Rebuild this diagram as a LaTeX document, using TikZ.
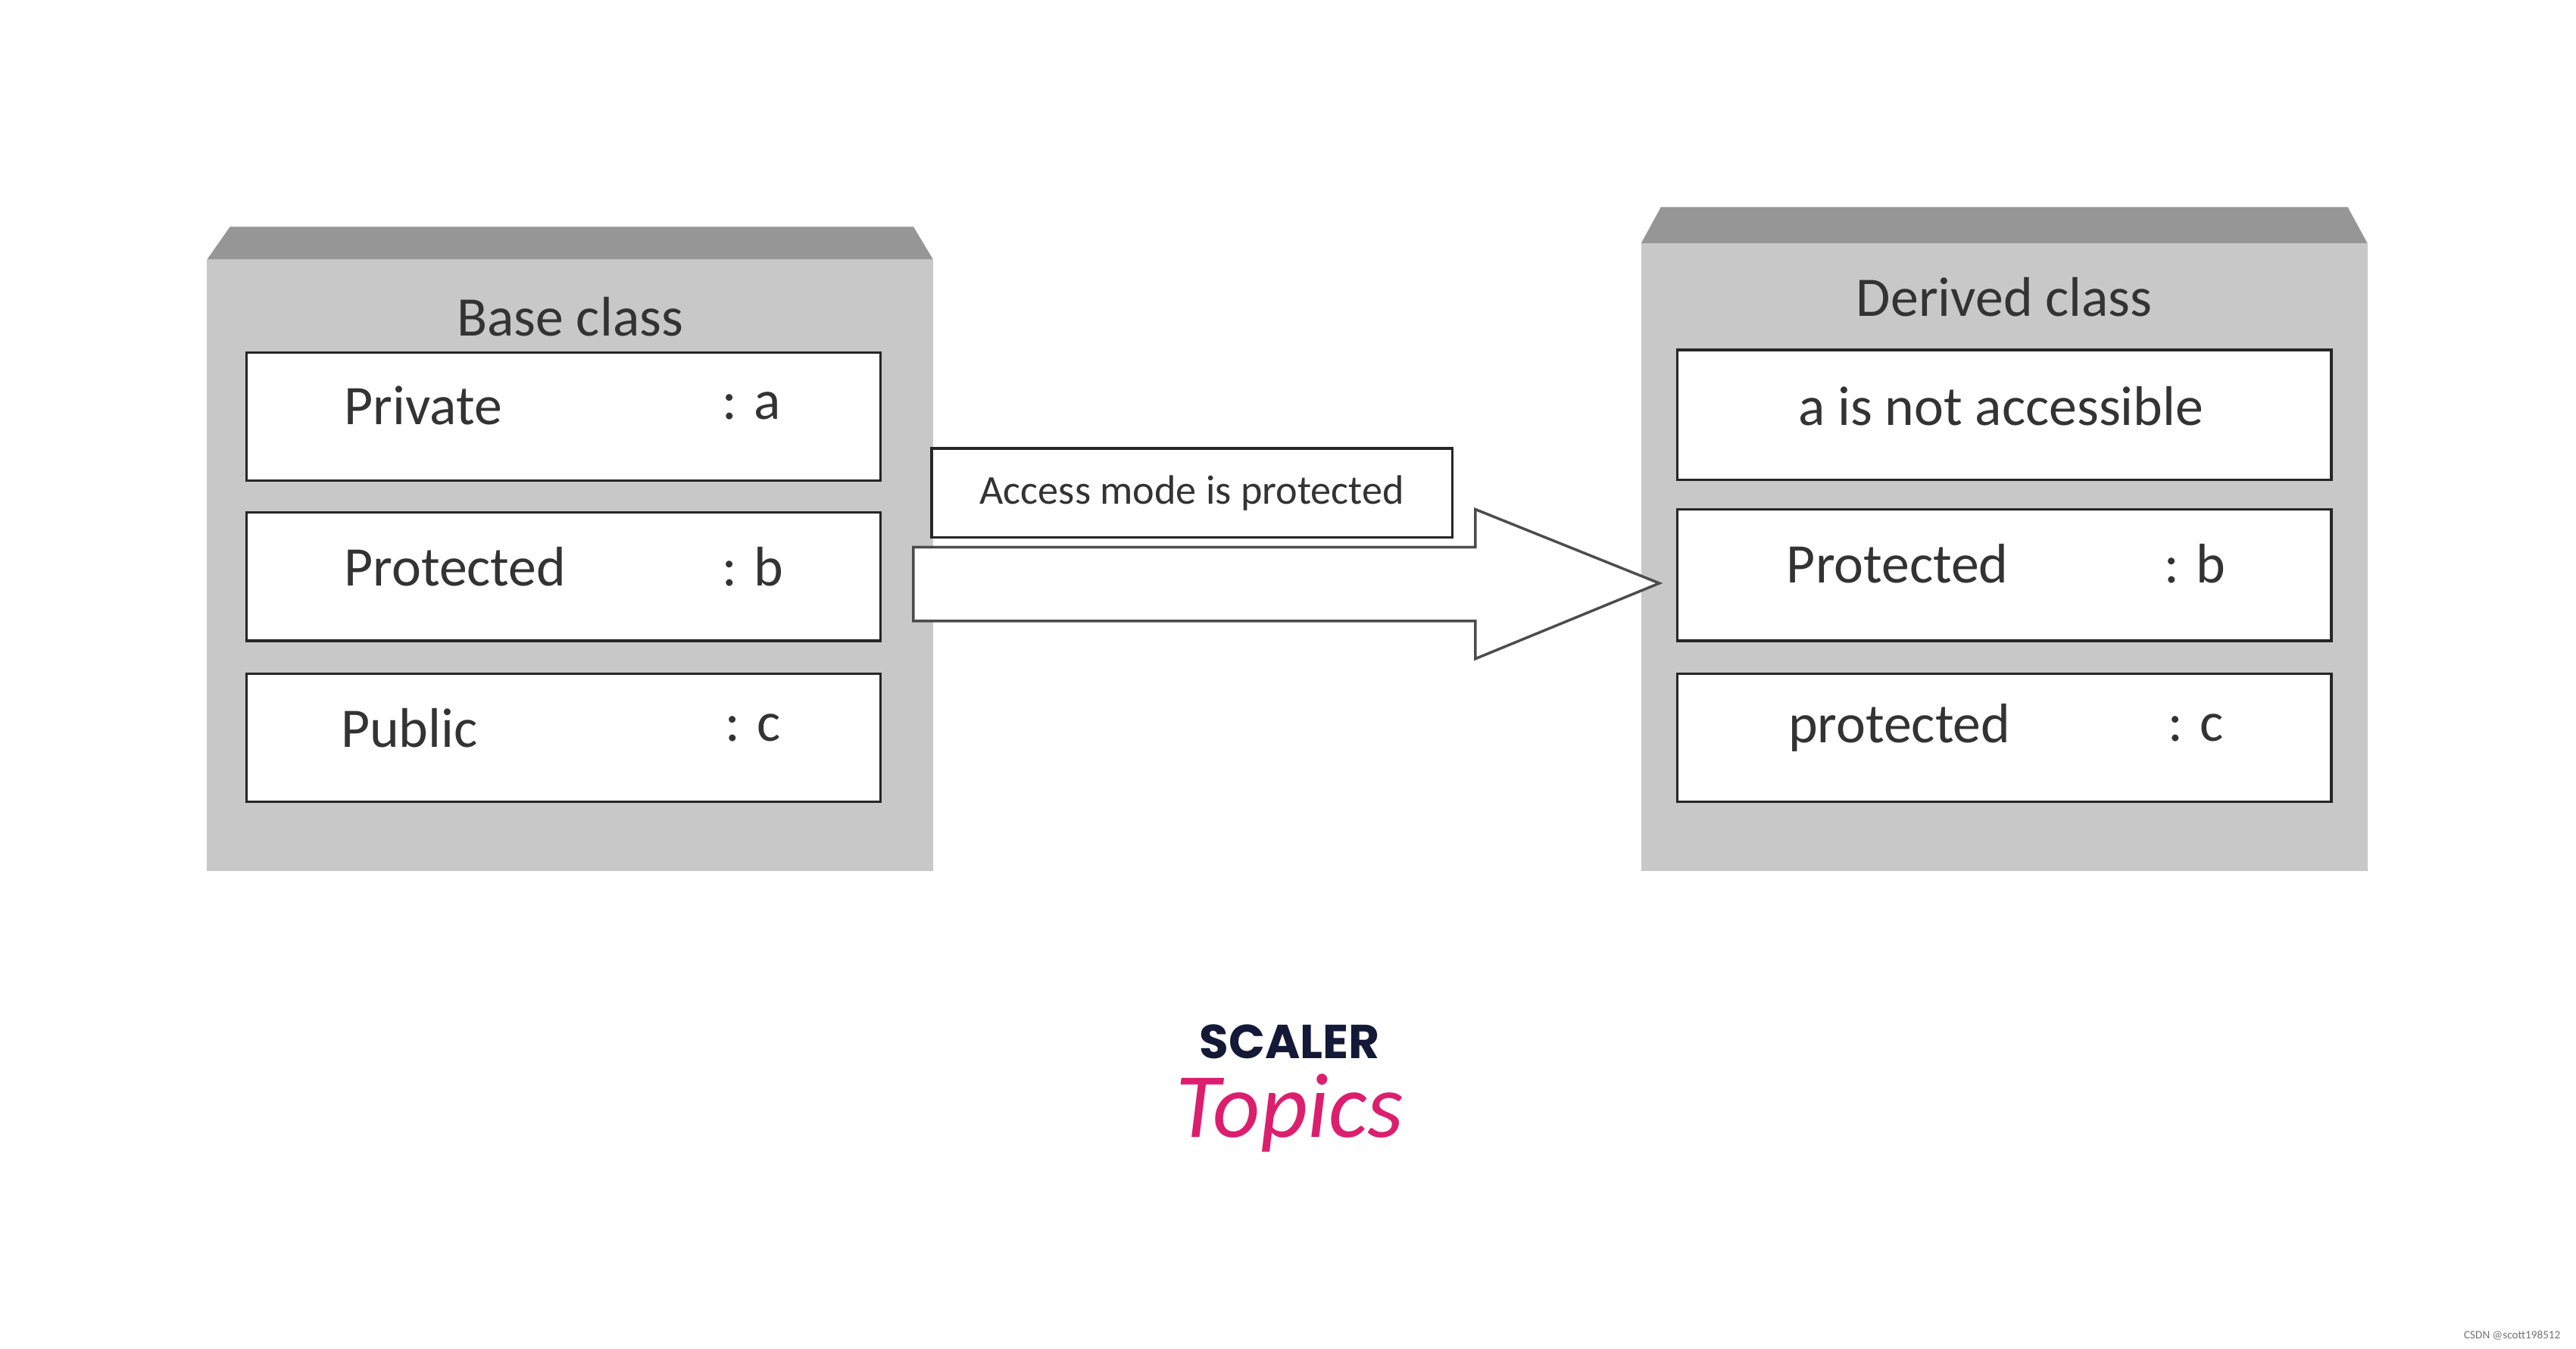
\documentclass[tikz,border=0pt]{standalone}
\usepackage{fontspec}
\setmainfont{Carlito}
\newfontfamily\logofont{Poppins}
\usetikzlibrary{positioning}
\definecolor{boxgray}{RGB}{200,200,200}
\definecolor{topgray}{RGB}{150,150,150}
\definecolor{navy}{RGB}{20,25,55}
\definecolor{pinkish}{RGB}{220,30,110}
\tikzset{
  member/.style={draw=black!85, line width=1.6pt, fill=white, minimum width=386pt, minimum height=78pt, inner sep=0pt},
  membertext/.style={font=\fontsize{34}{38}\selectfont, text=black!80},
  title/.style={font=\fontsize{34}{38}\selectfont, text=black!80}
}
\begin{document}
\begin{tikzpicture}[x=1pt,y=-1pt]
\useasboundingbox (0,0) rectangle (1568,821);

% Base class block
\fill[boxgray] (126,158) rectangle (568,530);
\fill[topgray] (126,158) -- (140,138) -- (556,138) -- (568,158) -- cycle;
\node[title] (basetitle) at (347,193) {Base class};
\node[member] (bpriv) at (343,253.5) {};
\node[member] (bprot) at (343,351) {};
\node[member] (bpub) at (343,449) {};
\node[membertext, anchor=west] at (206,247) {Private};
\node[membertext, anchor=west] at (436,247) {: a};
\node[membertext, anchor=west] at (206,345) {Protected};
\node[membertext, anchor=west] at (436,345) {: b};
\node[membertext, anchor=west] at (204,443) {Public};
\node[membertext, anchor=west] at (438,443) {: c};

% Derived class block
\fill[boxgray] (999,148) rectangle (1441,530);
\fill[topgray] (999,148) -- (1011,126) -- (1429,126) -- (1441,148) -- cycle;
\node[title] (dertitle) at (1220,181) {Derived class};
\node[member, minimum width=398pt, minimum height=79pt] (dpriv) at (1220,252.5) {};
\node[member, minimum width=398pt, minimum height=80pt] (dprot) at (1220,350) {};
\node[member, minimum width=398pt] (dpub) at (1220,449) {};
\node[membertext] at (1218,247) {a is not accessible};
\node[membertext, anchor=west] at (1084,343) {Protected};
\node[membertext, anchor=west] at (1314,343) {: b};
\node[membertext, anchor=west] at (1085,443) {protected};
\node[membertext, anchor=west] at (1316,443) {: c};

% Arrow between the blocks
\draw[line width=1.6pt, draw=black!70, fill=white]
  (556,333) -- (898,333) -- (898,310) -- (1010,355) -- (898,401) -- (898,378) -- (556,378) -- cycle;
\node[draw=black!85, line width=1.6pt, fill=white, minimum width=317pt, minimum height=54pt,
  font=\fontsize{25}{28}\selectfont, text=black!80] (mode) at (725.5,300) {Access mode is protected};

% Logo
\node[font=\logofont\bfseries\fontsize{29}{32}\selectfont, text=navy] (scaler) at (785,634) {SCALER};
\node[font=\itshape\fontsize{56}{60}\selectfont, text=pinkish, below=2pt of scaler] (topics) {Topics};
\node[font=\fontsize{7}{8}\selectfont, text=black!55, anchor=east] (csdn) at (1562,813) {CSDN @scott198512};
\end{tikzpicture}
\end{document}
